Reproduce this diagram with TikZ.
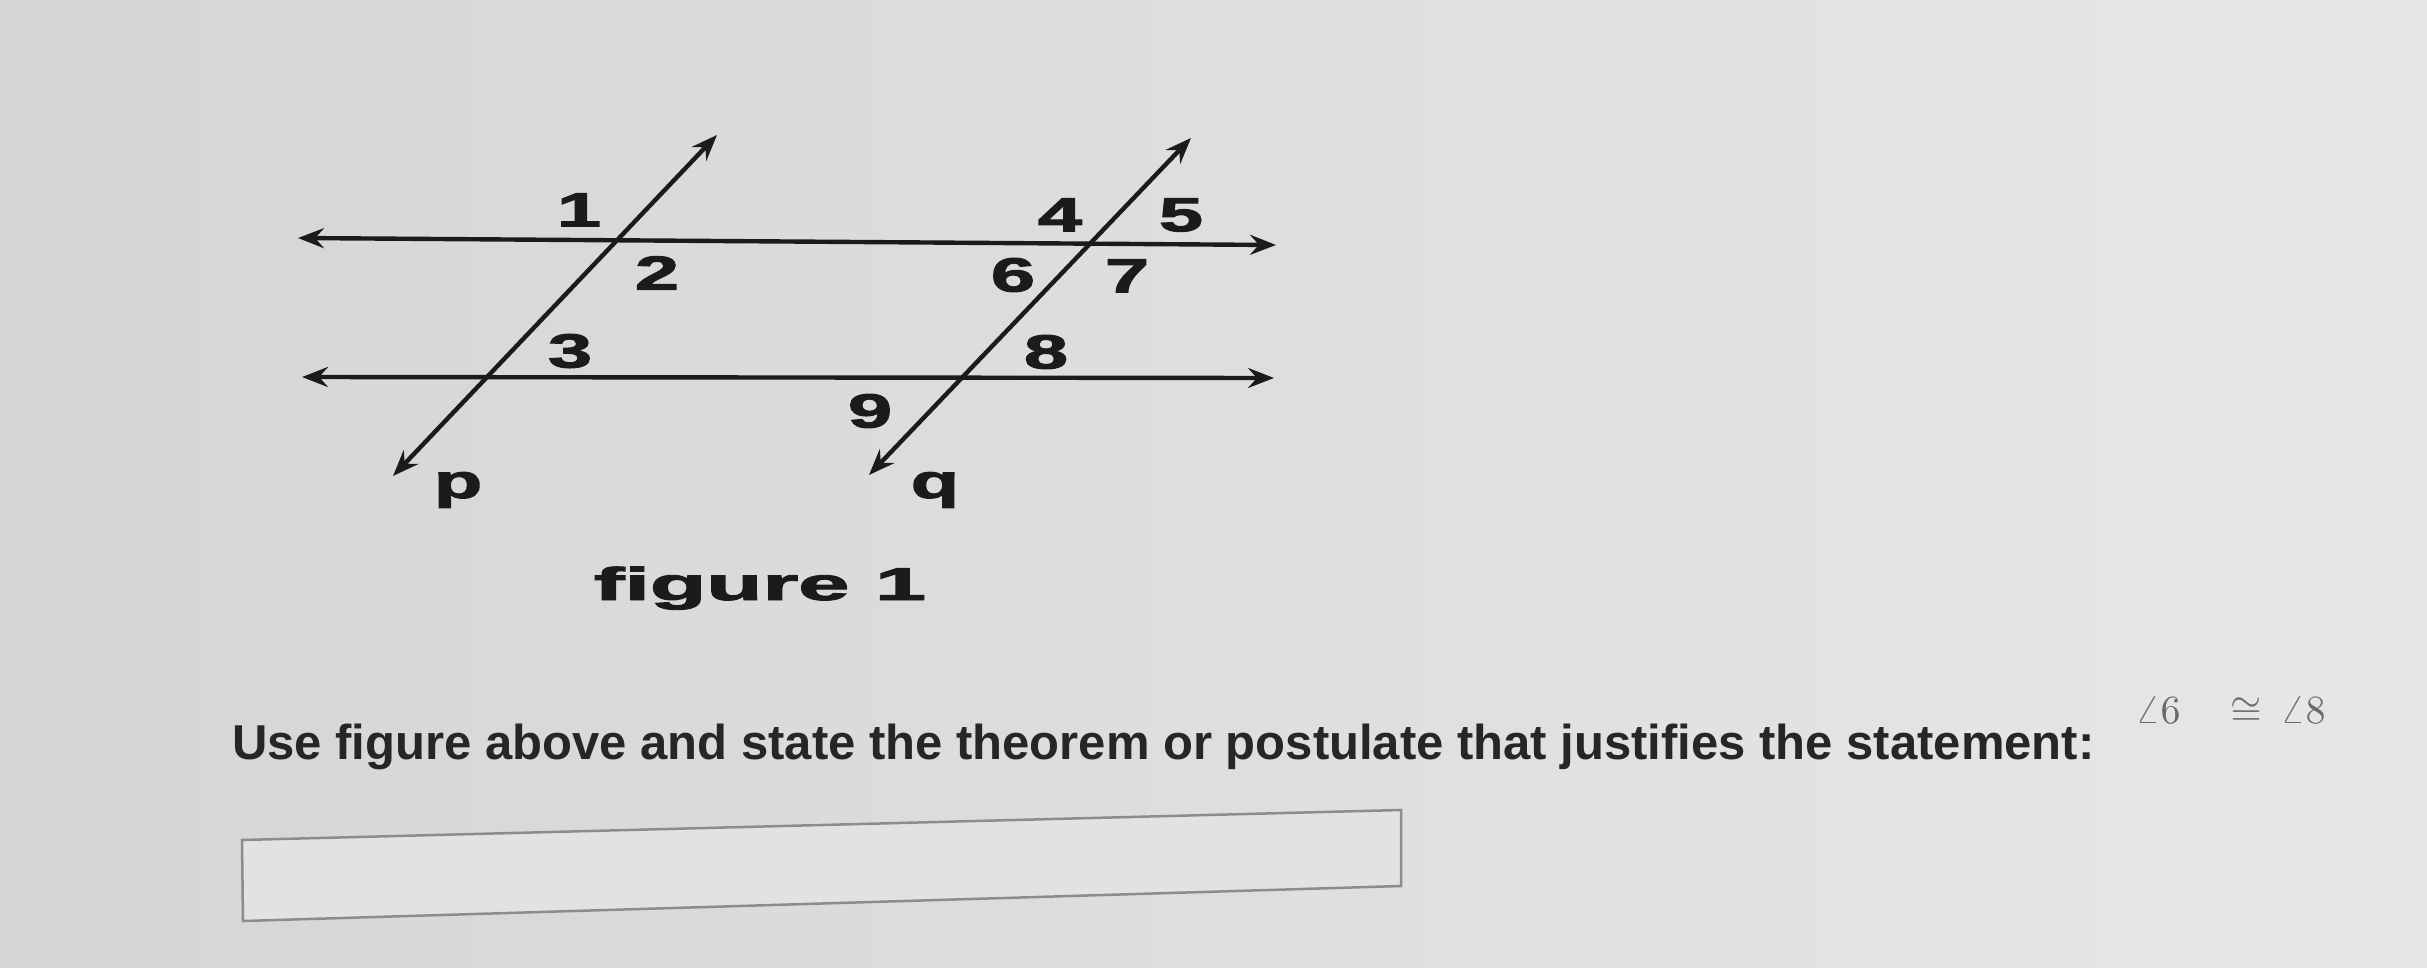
\documentclass[tikz,border=0pt]{standalone}
\usepackage{fontspec}
\usepackage{graphicx}
\setmainfont{Liberation Sans}
\newfontfamily\heavyfont[FakeBold=2]{Liberation Sans Bold}
\usetikzlibrary{arrows.meta}
\definecolor{bgL}{HTML}{D5D5D3}
\definecolor{bgR}{HTML}{E7E7E5}
\definecolor{ink}{HTML}{1B1B1B}
\definecolor{txt}{HTML}{262626}
\definecolor{boxline}{HTML}{8C8C8C}
\definecolor{boxfill}{HTML}{E2E2E0}
\definecolor{mathgray}{HTML}{6A6A6A}
\newcommand\widelbl[1]{\scalebox{1.65}[1]{#1}}
\tikzset{
  geoline/.style={ink, line width=4.4pt, {Stealth[length=26pt,width=20pt,inset=9pt]}-{Stealth[length=26pt,width=20pt,inset=9pt]}},
  lbl/.style={ink, font=\heavyfont\fontsize{48}{48}\selectfont, inner sep=0pt},
  qtext/.style={txt, font=\bfseries\fontsize{49}{49}\selectfont, inner sep=0pt, anchor=base west},
}
\begin{document}
\begin{tikzpicture}[x=1pt,y=-1pt]
\shade[left color=bgL,right color=bgR] (0,0) rectangle (2427,968);
\useasboundingbox (0,0) rectangle (2427,968);

% line end points
\coordinate (h1L) at (298,238);
\coordinate (h1R) at (1276,245);
\coordinate (h2L) at (302,377);
\coordinate (h2R) at (1274,378);
\coordinate (pT) at (717,135);
\coordinate (pB) at (393,476);
\coordinate (qT) at (1191,138);
\coordinate (qB) at (869,475);

\draw[geoline] (h1L) -- (h1R);
\draw[geoline] (h2L) -- (h2R);
\draw[geoline] (pB) -- (pT);
\draw[geoline] (qB) -- (qT);

% angle labels
\node[lbl] (l1) at (579,210) {\widelbl{1}};
\node[lbl] (l2) at (657,273) {\widelbl{2}};
\node[lbl] (l3) at (570,351) {\widelbl{3}};
\node[lbl] (l4) at (1060,215) {\widelbl{4}};
\node[lbl] (l5) at (1181,215) {\widelbl{5}};
\node[lbl] (l6) at (1013,275) {\widelbl{6}};
\node[lbl] (l7) at (1127,276) {\widelbl{7}};
\node[lbl] (l8) at (1046,352) {\widelbl{8}};
\node[lbl] (l9) at (870,411) {\widelbl{9}};
\node[lbl] (lp) at (458,490) {\widelbl{p}};
\node[lbl] (lq) at (935,490) {\widelbl{q}};

% caption
\node[ink, font=\heavyfont\fontsize{46}{46}\selectfont, inner sep=0pt, anchor=base] (cap) at (760,600) {\scalebox{2.0}[1]{figure 1}};

% question
\node[qtext] (q) at (232,759) {Use figure above and state the theorem or postulate that justifies the statement:};
\node[mathgray, inner sep=0pt, anchor=base west] (stmt) at (2135,723) {\scalebox{4.0}{$\angle 6\hspace{12.5pt}{\cong}\hspace{4.6pt}\angle 8$}};

% answer box
\coordinate (bTL) at (242,840);
\coordinate (bTR) at (1401,810);
\coordinate (bBR) at (1401,886);
\coordinate (bBL) at (243,921);
\draw[boxline, line width=2.5pt, fill=boxfill] (bTL) -- (bTR) -- (bBR) -- (bBL) -- cycle;
\end{tikzpicture}
\end{document}
